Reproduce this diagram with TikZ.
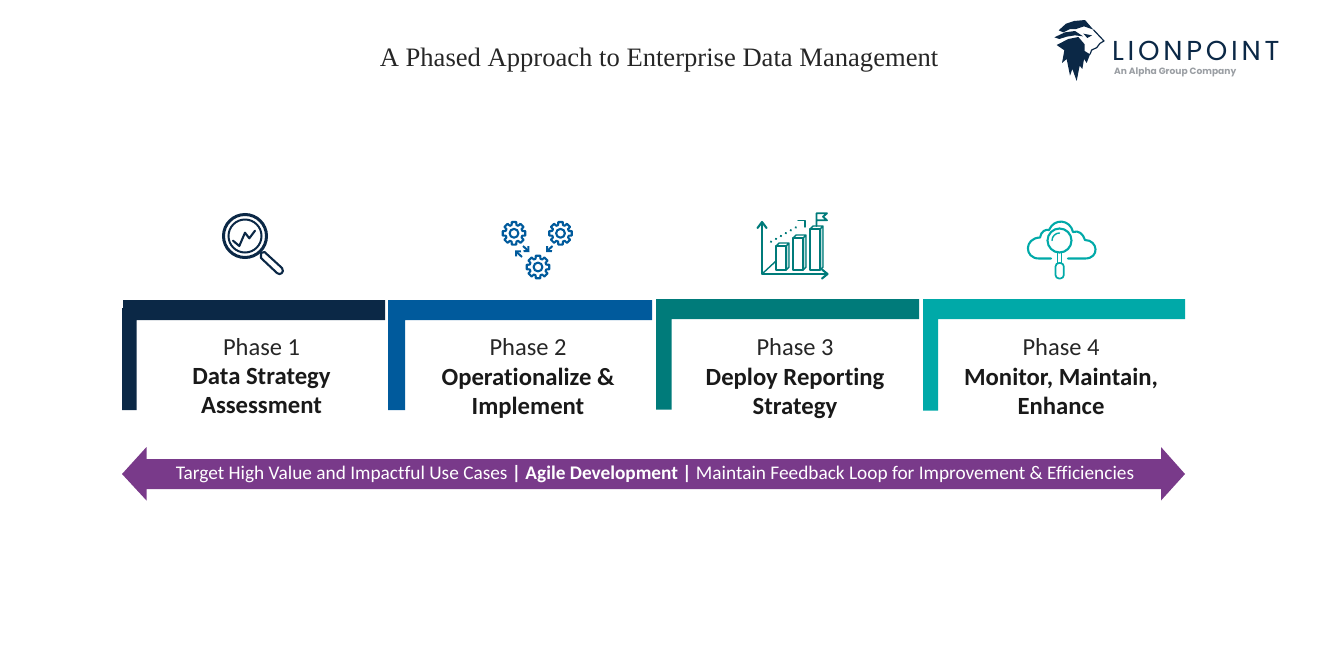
\documentclass[tikz,border=0pt]{standalone}
\usepackage{fontspec}
\setmainfont[Ligatures=NoCommon]{Carlito}
\newfontfamily\titlefont{Liberation Serif}
\newfontfamily\logofont{Poppins}
\usetikzlibrary{positioning,arrows.meta}
\definecolor{navyphase}{HTML}{0B2846}
\definecolor{bluephase}{HTML}{005A9C}
\definecolor{tealphase}{HTML}{007B7A}
\definecolor{cyanphase}{HTML}{00A9A8}
\definecolor{purplebar}{HTML}{793A8A}
\definecolor{logogrey}{HTML}{9A9EA3}
\tikzset{
  phasetext/.style={font=\fontsize{24.5}{29}\selectfont, text=black!85, align=center, inner sep=0pt},
  phasename/.style={font=\fontsize{24.7}{29.5}\selectfont\bfseries, text=black!90, align=center, inner sep=0pt},
  icon/.style={line width=2.1pt, line cap=round, line join=round, fill=none},
  thinicon/.style={line width=1.4pt, line cap=round, line join=round, fill=none},
  smallarrow/.style={-{Straight Barb[length=3.5pt,width=7pt]}, line width=2pt},
}
\newcommand{\gearicon}[2]{
  \begin{scope}[shift={(#1)}]
    \draw[icon, #2] (-11:11.5) \foreach \a in {0,45,...,315}{ -- ({\a-11}:11.5) -- ({\a+11}:11.5) -- ({\a+16}:8.6) -- ({\a+29}:8.6)} -- cycle;
    \draw[icon, #2] (0,0) circle (4.4);
  \end{scope}
}
\begin{document}
\begin{tikzpicture}[x=1pt,y=-1pt]
  \useasboundingbox (0,0) rectangle (1321,667);

  \node[font=\titlefont\fontsize{26.6}{30}\selectfont, text=black!85] (title) at (659,60) {A Phased Approach to Enterprise Data Management};

  % logo
  \begin{scope}[shift={(1050,15)}, x=0.3333pt, y=-0.3333pt]
    \fill[navyphase] (26,46) -- (48,26) -- (72,18) -- (105,15) -- (130,44) -- (102,34) -- (78,42) -- (60,42) -- (40,52) -- cycle;
    \fill[navyphase] (13,67) -- (45,52) -- (75,48) -- (99,64) -- (75,61) -- (50,65) -- (28,72) -- cycle;
    \fill[navyphase] (20,90) -- (55,72) -- (85,66) -- (104,88) -- (104,108) -- (120,118) -- (110,144) -- (102,132) -- (97,162) -- (89,152)
      -- (80,198) -- (67,162) -- (60,182) -- (50,132) -- (36,144) -- (43,106) -- cycle;
    \fill[navyphase] (100,56) -- (126,61) -- (112,69) -- cycle;
    \draw[navyphase, line width=1.2pt, line join=round] (130,44) -- (162,78) -- (150,85) -- (140,98) -- (125,105) -- (120,118);
  \end{scope}
  \node[font=\logofont\fontsize{27.4}{29}\selectfont\addfontfeature{LetterSpace=13.5}, text=navyphase, anchor=west, inner sep=0pt] (logoname) at (1112,51) {LIONPOINT};
  \node[font=\logofont\fontsize{9.1}{11}\selectfont\bfseries, text=logogrey, anchor=west, inner sep=0pt] (logotag) at (1114,72.5) {An Alpha Group Company};

  % brackets
  \fill[navyphase] (123,300) -- (385,300) -- (385,320) -- (136.5,320) -- (136.5,410) -- (122,410) -- (122,308) -- (123,308) -- cycle;
  \fill[bluephase] (388,300) -- (652,300) -- (652,320) -- (405,320) -- (405,410) -- (388,410) -- cycle;
  \fill[tealphase] (656,299) -- (919,299) -- (919,319) -- (671.5,319) -- (671.5,409.5) -- (656,409.5) -- cycle;
  \fill[cyanphase] (923,299) -- (1185,299) -- (1185,319) -- (938,319) -- (938,410.5) -- (923,410.5) -- cycle;

  % phase labels
  \node[phasetext] (phase1) at (261.5,347) {Phase 1};
  \node[phasename, below=12pt of phase1] (name1) {Data Strategy\\Assessment};
  \node[phasetext] (phase2) at (528,347) {Phase 2};
  \node[phasename, below=12pt of phase2] (name2) {Operationalize \&\\Implement};
  \node[phasetext] (phase3) at (795,347) {Phase 3};
  \node[phasename, below=12pt of phase3] (name3) {Deploy Reporting\\Strategy};
  \node[phasetext] (phase4) at (1061,347) {Phase 4};
  \node[phasename, below=12pt of phase4] (name4) {Monitor, Maintain,\\Enhance};

  % double arrow
  \fill[purplebar] (122,474) -- (146.5,447) -- (146.5,459) -- (1161,459) -- (1161,447) -- (1185,474) -- (1161,500.5) -- (1161,489) -- (146.5,489) -- (146.5,500.5) -- cycle;
  \node[font=\fontsize{19.3}{22}\selectfont, text=white, inner sep=0pt] (arrowtext) at (655,474) {Target High Value and Impactful Use Cases \textbf{| Agile Development |} Maintain Feedback Loop for Improvement \& Efficiencies};

  % magnifier
  \draw[navyphase, line width=3pt] (245,236) circle (21.5);
  \draw[navyphase, line width=2pt] (245,236) circle (16.5);
  \draw[icon, navyphase] (233,240.7) -- (239.3,246) -- (245,232.7) -- (249.3,238.3) -- (255,230.7);
  \draw[icon, navyphase] (261,253) -- (264.5,252) -- (282,268) .. controls (285,272) and (280,276) .. (277,273) -- (261,258) -- cycle;

  % gears
  \gearicon{514,233.3}{bluephase}
  \gearicon{560.5,233.3}{bluephase}
  \gearicon{538,267}{bluephase}
  \draw[smallarrow, bluephase] (523,246) -- (529.5,252);
  \draw[smallarrow, bluephase] (522,257) -- (515,250.5);
  \draw[smallarrow, bluephase] (552.5,246) -- (546,252);

  % chart
  \draw[icon, tealphase] (762,223) -- (762,274) -- (827,274);
  \draw[icon, tealphase] (757.5,228) -- (762,222) -- (766.5,228);
  \draw[icon, tealphase] (822,269.5) -- (827.5,274) -- (822,278.5);
  \draw[thinicon, tealphase] (762,274) -- (776,261);
  \draw[tealphase, line width=2.4pt, line cap=round, dash pattern=on 0.1pt off 5.6pt] (771,241.7) -- (800,225);
  \draw[thinicon, tealphase] (798,220.5) -- (805,220.5) -- (805,227);
  \foreach \xa/\xb/\ya in {776/786/246, 793/803/238, 810/820/229}{
    \fill[tealphase!25] (\xb,\ya) -- (\xb+3,\ya-3) -- (\xb+3,267) -- (\xb,270) -- cycle;
    \draw[thinicon, tealphase, line width=1.9pt] (\xa,\ya) rectangle (\xb,270);
    \draw[thinicon, tealphase] (\xa,\ya) -- (\xa+3,\ya-3) -- (\xb+3,\ya-3) -- (\xb+3,267) -- (\xb,270) (\xb,\ya) -- (\xb+3,\ya-3);
  }
  \draw[icon, tealphase, line width=1.8pt] (816.5,226) -- (816.5,213.3) -- (827,213.3) -- (823,216.7) -- (827,220.3) -- (816.5,220.3);

  % cloud
  \draw[icon, cyanphase] (1051,258.5) -- (1039,258.5) .. controls (1024,258.5) and (1024,238) .. (1040,237.5) .. controls (1041,231) and (1046,229) .. (1049,230)
    .. controls (1054,218) and (1070,219) .. (1073,232) .. controls (1079,230) and (1083,234) .. (1085,240) .. controls (1098,240) and (1100,258.5) .. (1085,258.5) -- (1068,258.5);
  \fill[white] (1059.5,240.5) circle (12);
  \draw[icon, cyanphase] (1059.5,240.5) circle (12);
  \draw[thinicon, cyanphase] (1052,240.5) arc[start angle=180, end angle=270, radius=7.5];
  \draw[icon, cyanphase, line width=1.7pt] (1057.5,253) -- (1057.5,263) (1061.5,253) -- (1061.5,263);
  \draw[icon, cyanphase, line width=1.7pt, rounded corners=3.5pt] (1055.5,263) rectangle (1063.8,278.5);
\end{tikzpicture}
\end{document}
